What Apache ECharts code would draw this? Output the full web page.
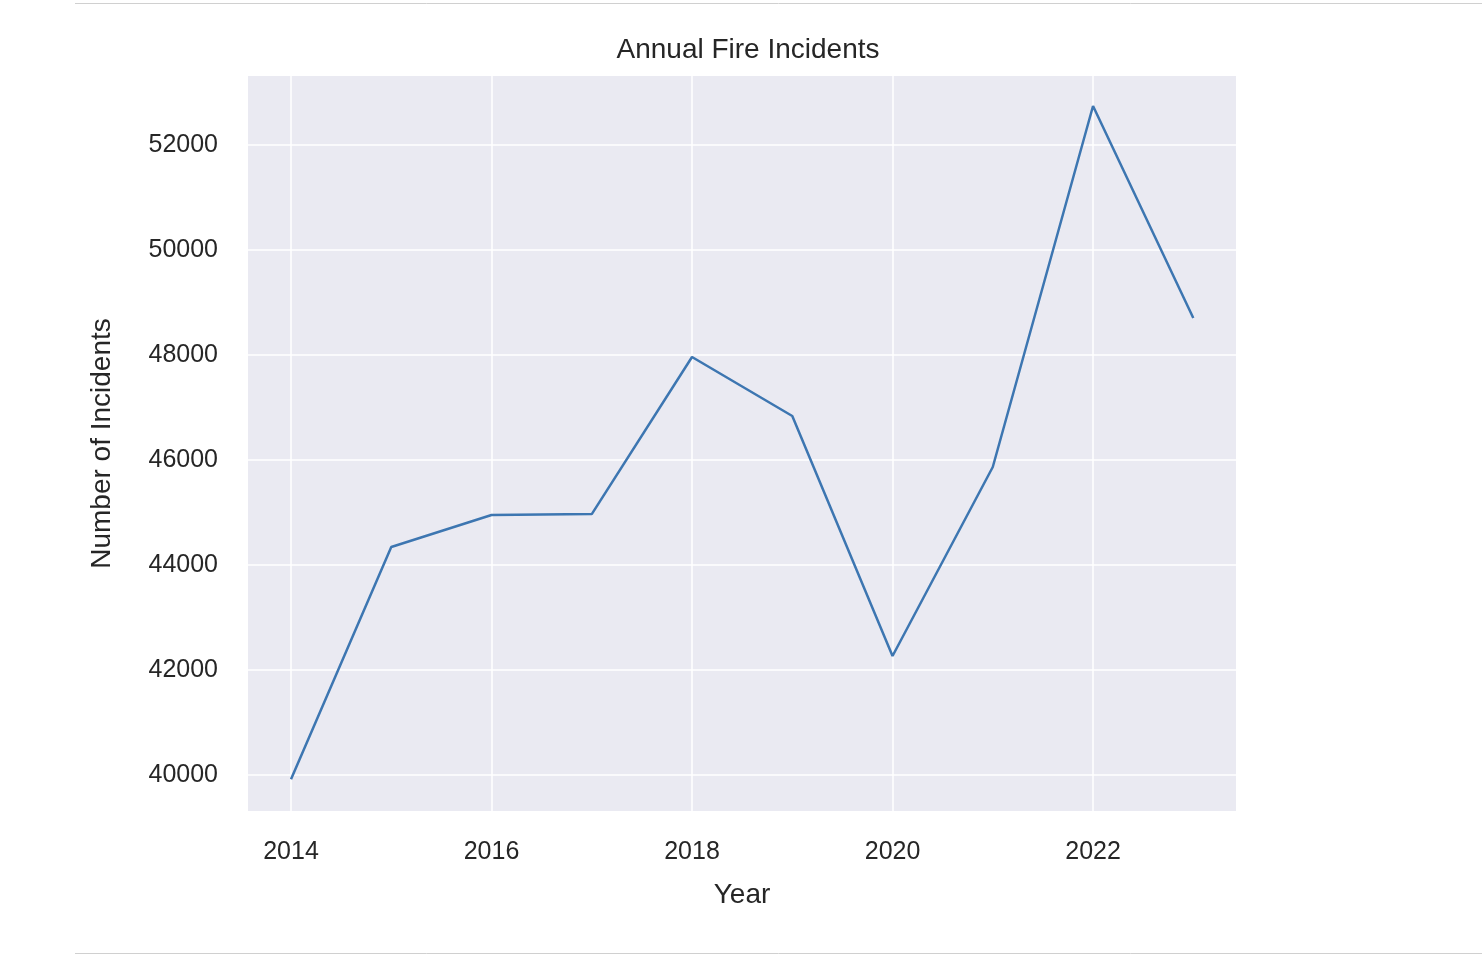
<!DOCTYPE html>
<html><head><meta charset="utf-8">
<script src="https://cdn.jsdelivr.net/npm/echarts@6/dist/echarts.min.js"></script>
<style>html,body{margin:0;background:#fff}#c{width:1482px;height:956px}</style>
</head><body><div id="c"></div>
<script>
const years = [2014,2015,2016,2017,2018,2019,2020,2021,2022,2023];
const incidents = [39920,44343,44952,44970,47962,46838,42267,45867,52743,48705];
const xTicks = [2014,2016,2018,2020,2022];
const yTicks = [40000,42000,44000,46000,48000,50000,52000];
const font = 'Liberation Sans, Arial, sans-serif';
const chart = echarts.init(document.getElementById('c'));
chart.setOption({
  animation:false,
  title:{text:'Annual Fire Incidents',left:743,top:31,textAlign:'center',textStyle:{fontFamily:font,fontSize:28,fontWeight:'normal',color:'#262626'}},
  graphic:[
    {type:'line',shape:{x1:75,y1:3.5,x2:1482,y2:3.5},style:{stroke:'#d0d0d0',lineWidth:1}},
    {type:'line',shape:{x1:75,y1:953.5,x2:1482,y2:953.5},style:{stroke:'#d0d0d0',lineWidth:1}}
  ],
  grid:{left:248,top:76,width:988,height:735,backgroundColor:'#eaeaf2',show:true,borderWidth:0},
  xAxis:{type:'value',min:2013.571,max:2023.426,name:'Year',nameLocation:'middle',nameGap:70,
    nameTextStyle:{fontFamily:font,fontSize:28,color:'#262626'},
    axisLine:{show:false},axisTick:{show:false,customValues:xTicks},
    axisLabel:{customValues:xTicks,formatter:v=>String(v),fontFamily:font,fontSize:25,color:'#262626',margin:29},
    splitLine:{show:true,lineStyle:{color:'#ffffff',width:1.5}}},
  yAxis:{type:'value',min:39314,max:53314,name:'Number of Incidents',nameLocation:'middle',nameGap:132,
    nameTextStyle:{fontFamily:font,fontSize:28,color:'#262626'},
    axisLine:{show:false},axisTick:{show:false,customValues:yTicks},
    axisLabel:{customValues:yTicks,formatter:v=>String(v),fontFamily:font,fontSize:25,color:'#262626',margin:30},
    splitLine:{show:true,lineStyle:{color:'#ffffff',width:1.5}}},
  series:[{type:'line',data:years.map((y,i)=>[y,incidents[i]]),showSymbol:false,
    lineStyle:{color:'#3d76b1',width:2.5}}]
});
</script></body></html>
